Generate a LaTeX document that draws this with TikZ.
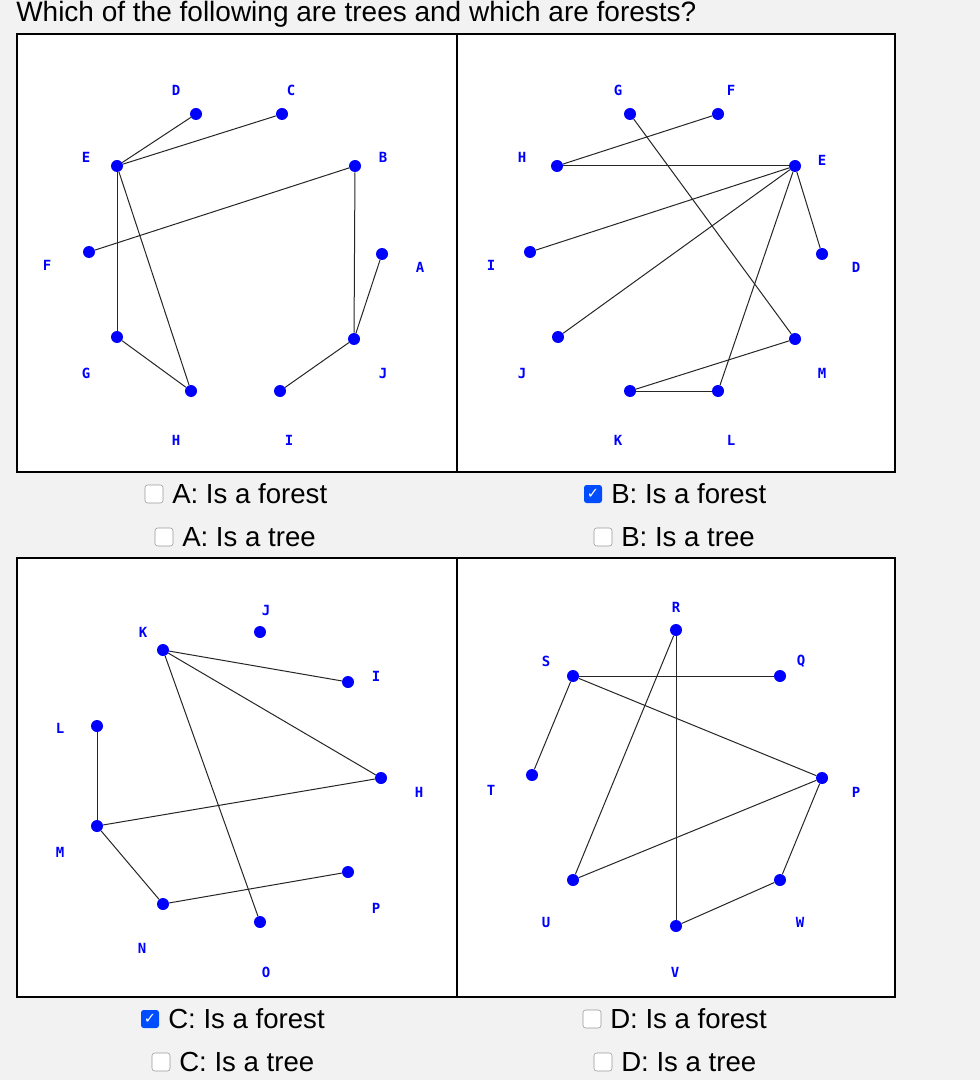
\documentclass[tikz,border=0pt]{standalone}
\usepackage{fontspec}
\setmainfont{Liberation Sans}
\setmonofont{DejaVu Sans Mono}
\newfontfamily\symf{DejaVu Sans}
\begin{document}
\begin{tikzpicture}[x=0.75pt,y=-0.75pt,
  v/.style={circle,fill=blue,inner sep=0pt,minimum size=9pt},
  lb/.style={text=blue,font=\ttfamily\bfseries\fontsize{10.5}{11}\selectfont,inner sep=0pt},
  panel/.style={draw=black,fill=white,line width=0.9pt},
  e/.style={draw=black!85,line width=0.75pt},
  ans/.style={anchor=west,font=\fontsize{20.7}{22}\selectfont,inner sep=0pt},
  cb/.style={draw=black!40,fill=white,rounded corners=2pt,minimum size=13.5pt,inner sep=0pt},
  cbon/.style={fill=blue!70!cyan,rounded corners=2pt,minimum size=13.5pt,inner sep=0pt,text=white,font=\symf\bfseries\fontsize{11}{11}\selectfont}]
\fill[black!5] (0,0) rectangle (980,1080);
\useasboundingbox (0,0) rectangle (980,1080);
\node[anchor=west,font=\fontsize{21}{22}\selectfont,inner sep=0pt] (title) at (16,14) {Which of the following are trees and which are forests?};
\draw[panel] (17,34) rectangle (457,472);
\draw[panel] (457,34) rectangle (895,472);
\draw[panel] (17,558) rectangle (457,997);
\draw[panel] (457,558) rectangle (895,997);
% Graph A
\foreach \n/\x/\y/\lx/\ly in {D/196/114/176/90, C/282/114/291/90, E/117/166/86/157, B/355/166/383/157, F/89/252/47/265, A/382/254/420/267, G/117/337/86/373, J/354/339/383/373, H/191/391/176/440, I/280/391/289/440}{
  \node[v] (a\n) at (\x,\y) {};
  \node[lb] (al\n) at (\lx,\ly) {\n};}
\foreach \p/\q in {E/D,E/C,E/G,E/H,F/B,B/J,J/A,G/H,J/I} \draw[e] (a\p) -- (a\q);
% Graph B
\foreach \n/\x/\y/\lx/\ly in {G/630/114/618/90, F/718/114/731/90, H/557/166/522/157, E/795/166/822/160, I/530/252/491/265, D/822/254/856/267, J/558/337/522/373, M/795/339/822/373, K/630/391/618/440, L/718/391/731/440}{
  \node[v] (b\n) at (\x,\y) {};
  \node[lb] (bl\n) at (\lx,\ly) {\n};}
\foreach \p/\q in {H/F,H/E,I/E,J/E,E/D,E/L,G/M,M/K,K/L} \draw[e] (b\p) -- (b\q);
% Graph C
\foreach \n/\x/\y/\lx/\ly in {J/260/632/266/610, K/163/650/143/632, I/348/682/376/676, L/97/726/60/728, H/381/778/419/792, M/97/826/60/852, P/348/872/376/908, N/163/904/142/948, O/260/922/266/972}{
  \node[v] (c\n) at (\x,\y) {};
  \node[lb] (cl\n) at (\lx,\ly) {\n};}
\foreach \p/\q in {K/I,K/H,K/O,L/M,M/H,M/N,N/P} \draw[e] (c\p) -- (c\q);
% Graph D
\foreach \n/\x/\y/\lx/\ly in {R/676/630/676/607, S/573/676/546/661, Q/780/676/801/661, T/532/775/491/790, P/822/778/856/792, U/573/880/546/922, W/780/880/800/922, V/676/926/675/972}{
  \node[v] (d\n) at (\x,\y) {};
  \node[lb] (dl\n) at (\lx,\ly) {\n};}
\foreach \p/\q in {S/Q,S/P,S/T,R/U,R/V,U/P,P/W,W/V} \draw[e] (d\p) -- (d\q);
% answers
\node[cb] (k1) at (154,494) {}; \node[ans] (t1) at (172,494) {A: Is a forest};
\node[cb] (k2) at (164,537) {}; \node[ans] (t2) at (182,537) {A: Is a tree};
\node[cbon] (k3) at (593,494) {✓}; \node[ans] (t3) at (611,494) {B: Is a forest};
\node[cb] (k4) at (603,537) {}; \node[ans] (t4) at (621,537) {B: Is a tree};
\node[cbon] (k5) at (150,1019) {✓}; \node[ans] (t5) at (168,1019) {C: Is a forest};
\node[cb] (k6) at (161,1062) {}; \node[ans] (t6) at (179,1062) {C: Is a tree};
\node[cb] (k7) at (592,1019) {}; \node[ans] (t7) at (610,1019) {D: Is a forest};
\node[cb] (k8) at (603,1062) {}; \node[ans] (t8) at (621,1062) {D: Is a tree};
\end{tikzpicture}
\end{document}
